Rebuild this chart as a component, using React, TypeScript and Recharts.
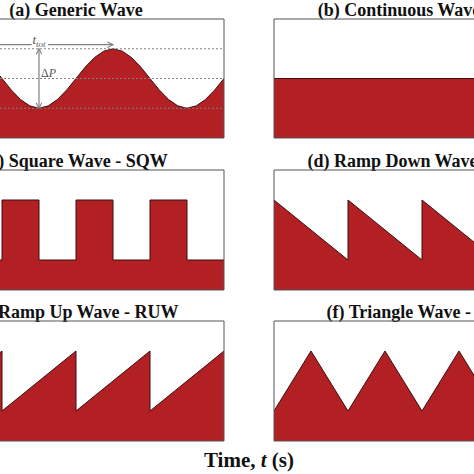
import React from 'react';
import { AreaChart, Area, XAxis, YAxis, ReferenceLine, ReferenceDot } from 'recharts';

// (a) generic wave, time in radians
const genericT = [0, 0.196, 0.393, 0.589, 0.785, 0.982, 1.178, 1.374, 1.571, 1.767, 1.963, 2.16, 2.356, 2.553, 2.749, 2.945, 3.142, 3.338, 3.534, 3.731, 3.927, 4.123, 4.32, 4.516, 4.712, 4.909, 5.105, 5.301, 5.498, 5.694, 5.89, 6.087, 6.283];
const genericP = [2.5, 2.98, 3.38, 3.65, 3.75, 3.65, 3.38, 2.98, 2.5, 2.02, 1.62, 1.35, 1.25, 1.35, 1.62, 2.02, 2.5, 2.98, 3.38, 3.65, 3.75, 3.65, 3.38, 2.98, 2.5, 2.02, 1.62, 1.35, 1.25, 1.35, 1.62, 2.02, 2.5];
const genericXTicks = [1, 2, 3, 4, 5, 6];
const genericYTicks = [1, 2, 3, 4];
const genericGuides = [3.75, 2.5, 1.25];
// t_tot arrow: from peak to peak, broken round the label
const ttotLeft = [0.785, 2.2];
const ttotRight = [2.55, 3.927];
const ttotLevel = 3.92;
const ttotLabelAt = [2.356, 3.97];
// delta P arrow: trough to peak
const dpX = 2.356;
const dpRange = [1.25, 3.75];
const dpLabelAt = [2.4, 2.73];

// (b) continuous
const contT = [0, 4];
const contP = [4, 4];
const contXTicks = [2, 4];
const contYTicks = [1, 2, 3];

// (c) square
const squareT = [0, 0.5, 0.5, 1, 1, 1.5, 1.5, 2, 2, 2.5, 2.5, 3, 3, 3.5, 3.5, 4];
const squareP = [3, 3, 1, 1, 3, 3, 1, 1, 3, 3, 1, 1, 3, 3, 1, 1];

// (d) ramp down
const rampDownT = [0, 1, 1, 2, 2, 3, 3, 4];
const rampDownP = [3, 1, 3, 1, 3, 1, 3, 1];

// (e) ramp up
const rampUpT = [0, 1, 1, 2, 2, 3, 3, 4];
const rampUpP = [1, 3, 1, 3, 1, 3, 1, 3];

// (f) triangle
const triT = [0, 0.5, 1, 1.5, 2, 2.5, 3, 3.5, 4];
const triP = [1, 3, 1, 3, 1, 3, 1, 3, 1];

const waveXTicks = [1, 2, 3];
const waveYTicks = [1, 2, 3];

const FILL = '#b22024';
const EDGE = '#3a1010';
const FRAME = '#555555';
const GUIDE = '#808080';
const PLOT_W = 296;
const SERIF = '"Liberation Serif", "DejaVu Serif", serif';

type PanelProps = {
  title: string;
  left: number;
  top: number;
  h: number;
  t: number[];
  p: number[];
  xDomain: [number, number];
  xTicks: number[];
  yDomain: [number, number];
  yTicks: number[];
  children?: React.ReactNode;
};

const Panel = ({ title, left, top, h, t, p, xDomain, xTicks, yDomain, yTicks, children }: PanelProps) => {
  const data = t.map((v, i) => ({ t: v, p: p[i] }));
  const axisCommon = {
    mirror: true,
    tick: false as const,
    tickSize: 4,
    allowDataOverflow: true,
    stroke: FRAME,
    axisLine: { stroke: FRAME, strokeWidth: 1 },
    tickLine: { stroke: FRAME },
  };
  return (
    <>
      <div
        style={{
          position: 'absolute',
          left,
          top: top - 19,
          width: PLOT_W,
          textAlign: 'center',
          fontFamily: SERIF,
          fontWeight: 'bold',
          fontSize: 18,
          lineHeight: '20px',
          whiteSpace: 'nowrap',
          color: '#111',
        }}
      >
        {title}
      </div>
      <div style={{ position: 'absolute', left: left - 1, top: top - 1 }}>
        <AreaChart width={PLOT_W + 2} height={h + 2} data={data} margin={{ top: 1, right: 1, bottom: 1, left: 1 }}>
          <Area
            xAxisId="b"
            yAxisId="l"
            type="linear"
            dataKey="p"
            stroke={EDGE}
            strokeWidth={1}
            fill={FILL}
            fillOpacity={1}
            dot={false}
            activeDot={false}
            isAnimationActive={false}
          />
          {children}
          <XAxis xAxisId="b" orientation="bottom" dataKey="t" type="number" domain={xDomain} ticks={xTicks} height={1} {...axisCommon} />
          <XAxis xAxisId="t" orientation="top" dataKey="t" type="number" domain={xDomain} ticks={xTicks} height={1} {...axisCommon} />
          <YAxis yAxisId="l" orientation="left" type="number" domain={yDomain} ticks={yTicks} width={1} {...axisCommon} />
          <YAxis yAxisId="r" orientation="right" type="number" domain={yDomain} ticks={yTicks} width={1} {...axisCommon} />
        </AreaChart>
      </div>
    </>
  );
};

const arrowLine = (start: boolean) => (props: any) => (
  <line
    x1={props.x1}
    y1={props.y1}
    x2={props.x2}
    y2={props.y2}
    stroke={GUIDE}
    strokeWidth={1.2}
    markerEnd="url(#tipA)"
    markerStart={start ? 'url(#tipA)' : undefined}
  />
);

const GenericExtras = () => (
  <>
    <defs>
      <marker
        id="tipA"
        viewBox="0 0 10 10"
        refX="9"
        refY="5"
        markerWidth="7"
        markerHeight="7"
        markerUnits="userSpaceOnUse"
        orient="auto-start-reverse"
      >
        <path d="M1,1 L9,5 L1,9" fill="none" stroke={GUIDE} strokeWidth={1.6} />
      </marker>
    </defs>
    {genericGuides.map((g) => (
      <ReferenceLine key={g} xAxisId="b" yAxisId="l" y={g} stroke={GUIDE} strokeWidth={1} strokeDasharray="2 2" />
    ))}
    <ReferenceLine
      xAxisId="b"
      yAxisId="l"
      segment={[{ x: ttotLeft[0], y: ttotLevel }, { x: ttotLeft[1], y: ttotLevel }]}
      stroke={GUIDE}
      strokeWidth={1.2}
    />
    <ReferenceLine
      xAxisId="b"
      yAxisId="l"
      segment={[{ x: ttotRight[0], y: ttotLevel }, { x: ttotRight[1], y: ttotLevel }]}
      shape={arrowLine(false)}
    />
    <ReferenceLine
      xAxisId="b"
      yAxisId="l"
      segment={[{ x: dpX, y: dpRange[0] }, { x: dpX, y: dpRange[1] }]}
      shape={arrowLine(true)}
    />
    <ReferenceDot
      xAxisId="b"
      yAxisId="l"
      x={ttotLabelAt[0]}
      y={ttotLabelAt[1]}
      r={0}
      shape={(props: any) => (
        <text x={props.cx} y={props.cy} textAnchor="middle" fill="#555" fontFamily={SERIF} fontStyle="italic" fontSize={13}>
          t<tspan fontSize={9} dy={3}>tot</tspan>
        </text>
      )}
    />
    <ReferenceDot
      xAxisId="b"
      yAxisId="l"
      x={dpLabelAt[0]}
      y={dpLabelAt[1]}
      r={0}
      shape={(props: any) => (
        <text x={props.cx} y={props.cy} dy={4} textAnchor="start" fill="#555" fontFamily={SERIF} fontSize={12}>
          Δ<tspan fontStyle="italic">P</tspan>
        </text>
      )}
    />
  </>
);

export default function App() {
  const L = -72;
  const R = 274;
  return (
    <div
      style={{
        position: 'fixed',
        left: 0,
        top: 0,
        width: 474,
        height: 474,
        overflow: 'hidden',
        background: '#fff',
      }}
    >
      <Panel title="(a) Generic Wave" left={L} top={19} h={119} t={genericT} p={genericP}
        xDomain={[0, 6.283]} xTicks={genericXTicks} yDomain={[0, 5]} yTicks={genericYTicks}>
        <GenericExtras />
      </Panel>
      <Panel title="(b) Continuous Wave - CW" left={R} top={19} h={119} t={contT} p={contP}
        xDomain={[0, 4]} xTicks={contXTicks} yDomain={[0, 8]} yTicks={contYTicks} />
      <Panel title="(c) Square Wave - SQW" left={L} top={170} h={120} t={squareT} p={squareP}
        xDomain={[0, 4]} xTicks={waveXTicks} yDomain={[0, 4]} yTicks={waveYTicks} />
      <Panel title="(d) Ramp Down Wave - RDW" left={R} top={170} h={120} t={rampDownT} p={rampDownP}
        xDomain={[0, 4]} xTicks={waveXTicks} yDomain={[0, 4]} yTicks={waveYTicks} />
      <Panel title="(e) Ramp Up Wave - RUW" left={L} top={321} h={120} t={rampUpT} p={rampUpP}
        xDomain={[0, 4]} xTicks={waveXTicks} yDomain={[0, 4]} yTicks={waveYTicks} />
      <Panel title="(f) Triangle Wave - TRW" left={R} top={321} h={120} t={triT} p={triP}
        xDomain={[0, 4]} xTicks={waveXTicks} yDomain={[0, 4]} yTicks={waveYTicks} />
      <div
        style={{
          position: 'absolute',
          left: 149,
          top: 448,
          width: 200,
          textAlign: 'center',
          fontFamily: SERIF,
          fontWeight: 'bold',
          fontSize: 21,
          lineHeight: '24px',
          color: '#111',
          whiteSpace: 'nowrap',
        }}
      >
        Time, <i>t</i> (s)
      </div>
    </div>
  );
}
